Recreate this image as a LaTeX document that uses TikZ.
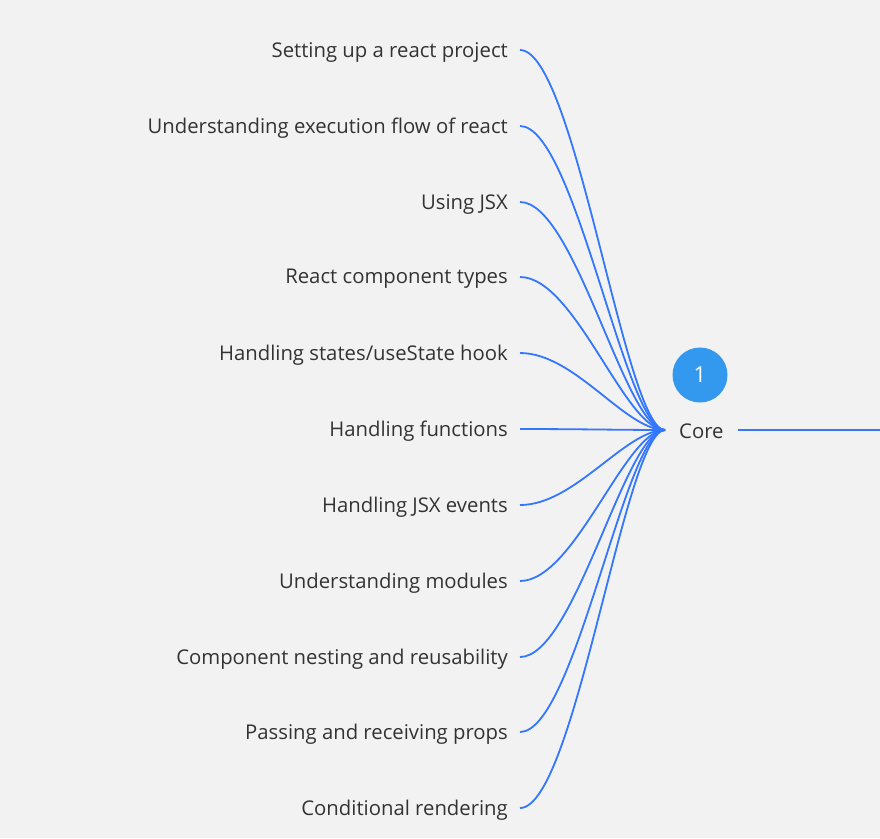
\documentclass[tikz,border=0pt]{standalone}
\usepackage{fontspec}
\setmainfont{Open Sans}
\definecolor{bg}{HTML}{F2F2F2}
\definecolor{txt}{HTML}{333333}
\definecolor{edge}{HTML}{3377FF}
\definecolor{badge}{HTML}{3399EE}
\begin{document}
\begin{tikzpicture}[x=1pt,y=-1pt,
  lbl/.style={anchor=east,inner sep=0pt,text=txt,font=\fontsize{20.3}{23}\selectfont},
  conn/.style={draw=edge,line width=1.8pt},
  badgestyle/.style={circle,fill=badge,minimum size=55pt,inner sep=0pt,text=white,font=\fontsize{22}{25}\selectfont}]
\fill[bg] (0,0) rectangle (880,838);
\useasboundingbox (0,0) rectangle (880,838);
\coordinate (hub) at (665,430);
\node[lbl,anchor=west] (core) at (679,431) {Core};
\node[badgestyle] (b1) at (700,375) {1};
\coordinate (rend) at (880,430);
\draw[conn] (core.east |- hub) ++(14,0) -- (rend);
\foreach \i/\y/\t in {1/50/{Setting up a react project},
  2/126/{Understanding execution flow of react},
  3/202/{Using JSX},
  4/277/{React component types},
  5/353/{Handling states/useState hook},
  6/429/{Handling functions},
  7/505/{Handling JSX events},
  8/581/{Understanding modules},
  9/657/{Component nesting and reusability},
  10/732/{Passing and receiving props},
  11/808/{Conditional rendering}}{
  \node[lbl] (l\i) at (508,\y+2) {\t};
  \coordinate (s\i) at (520,\y);
  \draw[conn] (s\i) .. controls +(55,0) and ([xshift=-40pt]hub) .. (hub);
}
\end{tikzpicture}
\end{document}
